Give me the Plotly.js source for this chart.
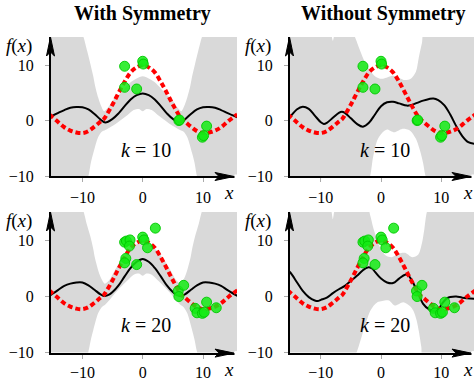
<!DOCTYPE html>
<html>
<head>
<meta charset="utf-8">
<script src="https://cdn.plot.ly/plotly-3.0.1.min.js"></script>
<style>html,body{margin:0;padding:0;background:#fff;}#chart{width:474px;height:382px;}</style>
</head>
<body>
<div id="chart"></div>
<script>
// ---------- data ----------
const titles = ["With Symmetry", "Without Symmetry"];
const kLabels = ["k = 10", "k = 20"];
const tickVals = [-10, 0, 10];
const tickText = ["\u221210", "0", "10"];

// true function (red dashed), same in every panel
const trueX = [-15.5,-14.3,-13,-12,-11,-10,-9,-8,-7,-6.5,-6,-5,-4,-3,-2,-1,0,1,2,3,4,5,6,6.5,7,8,9,10,11,12,13,14.3,15.7];
const trueY = [1.1,0,-1.2,-1.8,-2.15,-2.25,-1.9,-1.1,-0.2,0.2,1.0,2.9,5.0,7.0,8.7,9.6,10,9.6,8.7,7.0,5.0,2.9,1.0,0.2,-0.2,-1.1,-1.9,-2.25,-2.15,-1.8,-1.2,0,1.1];

// observations
const obsX10 = [-3.0,0.0,0.1,-3.0,-1.0,6.0,6.1,10.6,9.9,10.1];
const obsY10 = [9.8,10.7,10.2,6.0,5.7,0.0,0.1,-1.0,-3.0,-2.7];
const obsX20 = [-3.0,-2.7,-2.1,-2.2,-2.8,-3.0,-1.0,0.0,0.2,0.8,2.1,5.9,6.0,6.8,8.7,9.0,9.9,10.2,10.6,12.2];
const obsY20 = [9.7,9.9,10.1,9.0,6.8,6.0,5.7,10.6,10.1,8.7,12.2,1.0,0.0,2.0,-2.1,-2.9,-3.0,-2.8,-1.0,-2.0];

// top-left: with symmetry, k = 10
const meanX_TL = [-15.5,-14,-13,-12,-11,-10,-9,-8,-7,-6.2,-5,-4,-3,-2,-1,0,1,2,3,4,5,6.2,7,8,9,10,11,12,13,14,15.7];
const meanY_TL = [0.6,1.4,1.9,2.3,2.45,2.4,2.0,1.2,0.2,-0.35,0.3,1.3,2.6,3.8,4.6,4.9,4.6,3.8,2.6,1.3,0.3,-0.35,0.2,1.2,2.0,2.4,2.45,2.3,1.9,1.4,0.6];
const upX_TL = [-15.5,-10.2,-9.8,-9.2,-8.7,-8.2,-7.9,-7.4,-7.0,-6.4,-5.8,-5,-4,-3,-2,-1,0,1,2,3,4,5,5.8,6.4,7.0,7.4,7.9,8.2,8.7,9.2,9.8,10.2,15.7];
const upY_TL = [16,16,15,12.5,10.3,8,6.3,4.2,2.9,1.7,2.3,3.6,4.6,5.8,6.9,7.6,8.0,7.6,6.9,5.8,4.6,3.6,2.3,1.7,2.9,4.2,6.3,8,10.3,12.5,15,16,16];
const loX_TL = [-15.5,-9.4,-9.0,-8.6,-8.2,-7.4,-6.8,-6.2,-5.4,-4.5,-3.5,-2.5,-1.5,-0.6,0,0.6,1.5,2.5,3.5,4.5,5.4,6.2,6.8,7.4,8.2,8.6,9.0,9.4,15.7];
const loY_TL = [-11,-11,-10,-7.6,-5.9,-3.0,-2.0,-1.7,-1.2,-0.6,0.2,1.0,1.9,2.1,1.7,2.1,1.9,1.0,0.2,-0.6,-1.2,-1.7,-2.0,-3.0,-5.9,-7.6,-10,-11,-11];

// top-right: without symmetry, k = 10
const meanX_TR = [-15.5,-15,-14,-13,-12,-11,-10,-9.5,-9,-8,-7,-6.5,-6,-5,-4,-3,-2,-1,0,1,2,3,4.3,5,6,7,8,8.7,9.5,10.5,11.5,12.5,13.5,14.5,15.5];
const meanY_TR = [0.3,0.8,2.0,2.5,2.1,0.9,-0.3,-0.6,-0.4,0.5,1.4,1.6,1.4,0.4,-0.6,-1.1,-0.4,1.1,2.6,3.3,3.4,3.1,2.7,2.8,3.2,3.6,3.9,4.0,3.7,2.8,1.1,-1.0,-2.8,-3.9,-4.2];
const upX_TR = [-15.5,-8.6,-8.2,-8.0,-7.8,-7.4,-4.8,-4.3,-3.5,-2.7,-1.8,-1.0,-0.3,0.5,1.3,2.0,3.0,4.0,5.0,5.8,6.3,6.8,7.2,15.5];
const upY_TR = [16,16,15.2,14.4,15.2,16,16,15,12.7,10.6,9.0,8.0,7.6,7.6,7.9,8.1,7.7,7.3,7.6,8.8,11.5,14,16,16];
const loX_TR = [-15.5,-2.2,-1.8,-1.3,-0.6,0.2,1.0,2.2,3.5,4.8,5.8,6.5,7.0,7.4,7.8,15.5];
const loY_TR = [-11,-11,-10,-6.5,-3.5,-2.2,-1.6,-2.1,-1.5,-1.8,-3.3,-5.5,-7.7,-10,-11,-11];

// bottom-left: with symmetry, k = 20
const meanX_BL = [-15.5,-14,-13,-12,-11,-10,-9,-8,-7,-6.3,-5.5,-5,-4,-3,-2,-1,0,1,2,3,4,5,5.5,6.3,7,8,9,10,11,12,13,14,15.7];
const meanY_BL = [0.1,1.2,1.9,2.3,2.5,2.5,2.0,1.2,0.4,0.1,0.4,0.8,2.0,3.6,5.1,6.2,6.7,6.2,5.1,3.6,2.0,0.8,0.4,0.1,0.4,1.2,2.0,2.5,2.5,2.3,1.9,1.2,0.1];
const upX_BL = [-15.5,-10.2,-9.85,-9.3,-8.7,-8.2,-7.9,-7.1,-6.3,-5.5,-4.5,-3.5,-2.5,-1.5,-0.5,0,0.5,1.5,2.5,3.5,4.5,5.5,6.3,7.1,7.9,8.2,8.7,9.3,9.85,10.2,15.7];
const upY_BL = [16,16,15.3,13,10.8,8.5,6.8,3.8,2.3,3.0,4.9,6.6,8.0,9.0,9.6,9.7,9.6,9.0,8.0,6.6,4.9,3.0,2.3,3.8,6.8,8.5,10.8,13,15.3,16,16];
const loX_BL = [-15.5,-9.4,-9.0,-8.6,-8.2,-7.4,-6.8,-6.2,-5.5,-4.9,-4,-3.2,-2.4,-1.5,-0.6,0,0.6,1.5,2.4,3.2,4,4.9,5.5,6.2,6.8,7.4,8.2,8.6,9.0,9.4,15.7];
const loY_BL = [-11,-11,-9.8,-7.7,-6.0,-3.0,-1.9,-1.4,-0.6,0.2,1.3,2.2,3.0,3.9,4.1,3.7,4.1,3.9,3.0,2.2,1.3,0.2,-0.6,-1.4,-1.9,-3.0,-6.0,-7.7,-9.8,-11,-11];

// bottom-right: without symmetry, k = 20
const meanX_BR = [-15.5,-15,-14,-13,-12,-11,-10.5,-10,-9,-8,-7,-6,-5,-4,-3,-2.2,-1.5,-1,0,1,2,3,4,4.5,5,6,7,8,9,9.6,10,10.5,11,11.5,12.5,13.5,15.5];
const meanY_BR = [4.7,4.2,2.6,1.0,-0.1,-0.7,-0.8,-0.6,-0.2,0.6,1.3,1.9,2.8,3.7,4.7,5.2,5.0,4.4,3.2,2.5,2.4,3.2,3.9,3.8,3.1,1.0,-1.3,-2.3,-2.6,-2.3,-1.5,-0.8,-0.3,-0.1,0,-0.2,-0.4];
const upX_BR = [-15.5,-8.5,-8.2,-8.0,-7.8,-7.5,-2.3,-1.8,-1.3,-0.7,-0.1,0.8,1.8,3.0,4.0,5.2,6.2,6.8,7.2,7.6,8.0,15.5];
const upY_BR = [16,16,15,13.8,15,16,16,14.5,12.3,10.3,8.6,7.3,7.0,7.7,7.8,7.0,7.5,9.5,12,15,16,16];
const loX_BR = [-15.5,-4.6,-4.0,-3.4,-2.9,-2.3,-1.8,-1.2,-0.6,0.2,1.3,2.3,3.7,4.8,5.4,5.9,6.3,6.7,7.0,15.5];
const loY_BR = [-11,-11,-9.8,-7.8,-6.0,-4.0,-2.6,-1.6,-1.0,-0.8,-0.7,-1.6,-1.0,-1.7,-2.6,-4.2,-6.3,-9.0,-11,-11];

// ---------- styling / layout ----------
const W = 474, H = 382;
const serif = "Liberation Serif, Times New Roman, serif";
const panels = [
  {xa:"x",  ya:"y",  mX:meanX_TL, mY:meanY_TL, uX:upX_TL, uY:upY_TL, lX:loX_TL, lY:loY_TL, pX:obsX10, pY:obsY10, k:kLabels[0],
   dom:[51,237], yd:[37,176], xr:[-15.21,15.64], tipPx:234, stand:2},
  {xa:"x2", ya:"y2", mX:meanX_TR, mY:meanY_TR, uX:upX_TR, uY:upY_TR, lX:loX_TR, lY:loY_TR, pX:obsX10, pY:obsY10, k:kLabels[0],
   dom:[290,474], yd:[37,176], xr:[-15.12,15.45], tipPx:471, stand:2},
  {xa:"x3", ya:"y3", mX:meanX_BL, mY:meanY_BL, uX:upX_BL, uY:upY_BL, lX:loX_BL, lY:loY_BL, pX:obsX20, pY:obsY20, k:kLabels[1],
   dom:[51,237], yd:[212,352.6], xr:[-15.21,15.64], tipPx:234, stand:0},
  {xa:"x4", ya:"y4", mX:meanX_BR, mY:meanY_BR, uX:upX_BR, uY:upY_BR, lX:loX_BR, lY:loY_BR, pX:obsX20, pY:obsY20, k:kLabels[1],
   dom:[290,474], yd:[212,352.6], xr:[-15.12,15.45], tipPx:471, stand:0}
];
const yr = [-10, 15.08];

const traces = [];
const layout = {
  width: W, height: H, margin: {l:0, r:0, t:0, b:0},
  paper_bgcolor: "#fff", plot_bgcolor: "#fff", showlegend: false,
  annotations: [], shapes: []
};
function P(px, py) { return (px / W).toFixed(5) + "," + (1 - py / H).toFixed(5); }

panels.forEach((p, i) => {
  const n = i === 0 ? "" : String(i + 1);
  // band
  traces.push({
    x: p.uX.concat(p.lX.slice().reverse()),
    y: p.uY.concat(p.lY.slice().reverse()),
    xaxis: p.xa, yaxis: p.ya, type: "scatter", mode: "lines", fill: "toself",
    fillcolor: "#d9d9d9", line: {width: 0, shape: "spline", smoothing: 0.8}, hoverinfo: "skip"
  });
  // posterior mean
  traces.push({x: p.mX, y: p.mY, xaxis: p.xa, yaxis: p.ya, type: "scatter", mode: "lines",
    line: {color: "#000", width: 2, shape: "spline", smoothing: 1}});
  // true function
  traces.push({x: trueX, y: trueY, xaxis: p.xa, yaxis: p.ya, type: "scatter", mode: "lines",
    line: {color: "#ff0000", width: 4, dash: "5px,3px", shape: "spline", smoothing: 1}});
  // observations
  traces.push({x: p.pX, y: p.pY, xaxis: p.xa, yaxis: p.ya, type: "scatter", mode: "markers",
    marker: {size: 10, color: "rgba(20,235,20,0.85)", line: {color: "rgba(0,200,0,0.9)", width: 1}}});

  const common = {
    showgrid: false, zeroline: false, showline: true, linecolor: "#000", linewidth: 2,
    tickmode: "array", tickvals: tickVals, ticktext: tickText,
    ticks: "outside", ticklen: 4, tickwidth: 1, tickcolor: "#aaa",
    tickfont: {family: serif, size: 16, color: "#000"}
  };
  layout["xaxis" + n] = Object.assign({domain: [p.dom[0] / W, p.dom[1] / W], range: p.xr, anchor: p.ya,
    ticklabelstandoff: p.stand}, common);
  layout["yaxis" + n] = Object.assign({domain: [1 - p.yd[1] / H, 1 - p.yd[0] / H], range: yr, anchor: p.xa,
    ticklabelstandoff: 8}, common);

  // arrow heads (paper coordinates, decoration only)
  const ty = p.yd[1] + 0.5, tx = p.tipPx;
  layout.shapes.push({type: "path", xref: "paper", yref: "paper",
    path: "M " + P(tx - 19, ty - 4) + " L " + P(tx, ty) + " L " + P(tx - 19, ty + 4) + " L " + P(tx - 15, ty) + " Z",
    fillcolor: "#000", line: {color: "#000", width: 1}});
  const ax0 = p.dom[0] - 0.5, ay0 = p.yd[0];
  layout.shapes.push({type: "path", xref: "paper", yref: "paper",
    path: "M " + P(ax0 - 4, ay0 + 19) + " L " + P(ax0, ay0) + " L " + P(ax0 + 4, ay0 + 19) + " L " + P(ax0, ay0 + 15) + " Z",
    fillcolor: "#000", line: {color: "#000", width: 1}});
  // white-out of the axis line beyond the x arrow tip
  layout.shapes.push({type: "rect", xref: "paper", yref: "paper", x0: (tx + 0.5) / W, x1: (p.dom[1] + 2) / W,
    y0: 1 - (ty + 2) / H, y1: 1 - (ty - 2) / H, fillcolor: "#fff", line: {width: 0}});

  // labels
  layout.annotations.push({xref: "paper", yref: "paper", x: (p.dom[0] - 32) / W, y: 1 - (p.yd[0] + 9) / H,
    text: "<i>f</i>(<i>x</i>)", showarrow: false, xanchor: "center", yanchor: "middle",
    font: {family: serif, size: 19, color: "#000"}});
  layout.annotations.push({xref: "paper", yref: "paper", x: (p.dom[0] + 178) / W, y: 1 - (p.yd[1] + 17) / H,
    text: "<i>x</i>", showarrow: false, xanchor: "center", yanchor: "middle",
    font: {family: serif, size: 19, color: "#000"}});
  const kp = p.k.split(" = ");
  layout.annotations.push({xref: "paper", yref: "paper", x: (p.dom[0] + 95) / W, y: 1 - (p.yd[0] + 113) / H,
    text: "<i>" + kp[0] + "</i> = " + kp[1], showarrow: false, xanchor: "center", yanchor: "middle",
    font: {family: serif, size: 20, color: "#000"}});
});

layout.annotations.push({xref: "paper", yref: "paper", x: 142.5 / W, y: 1 - 13 / H, text: "<b>" + titles[0] + "</b>",
  showarrow: false, xanchor: "center", yanchor: "middle", font: {family: serif, size: 20, color: "#000"}});
layout.annotations.push({xref: "paper", yref: "paper", x: 383 / W, y: 1 - 13 / H, text: "<b>" + titles[1] + "</b>",
  showarrow: false, xanchor: "center", yanchor: "middle", font: {family: serif, size: 20, color: "#000"}});

Plotly.newPlot("chart", traces, layout, {staticPlot: true, displayModeBar: false});
</script>
</body>
</html>
